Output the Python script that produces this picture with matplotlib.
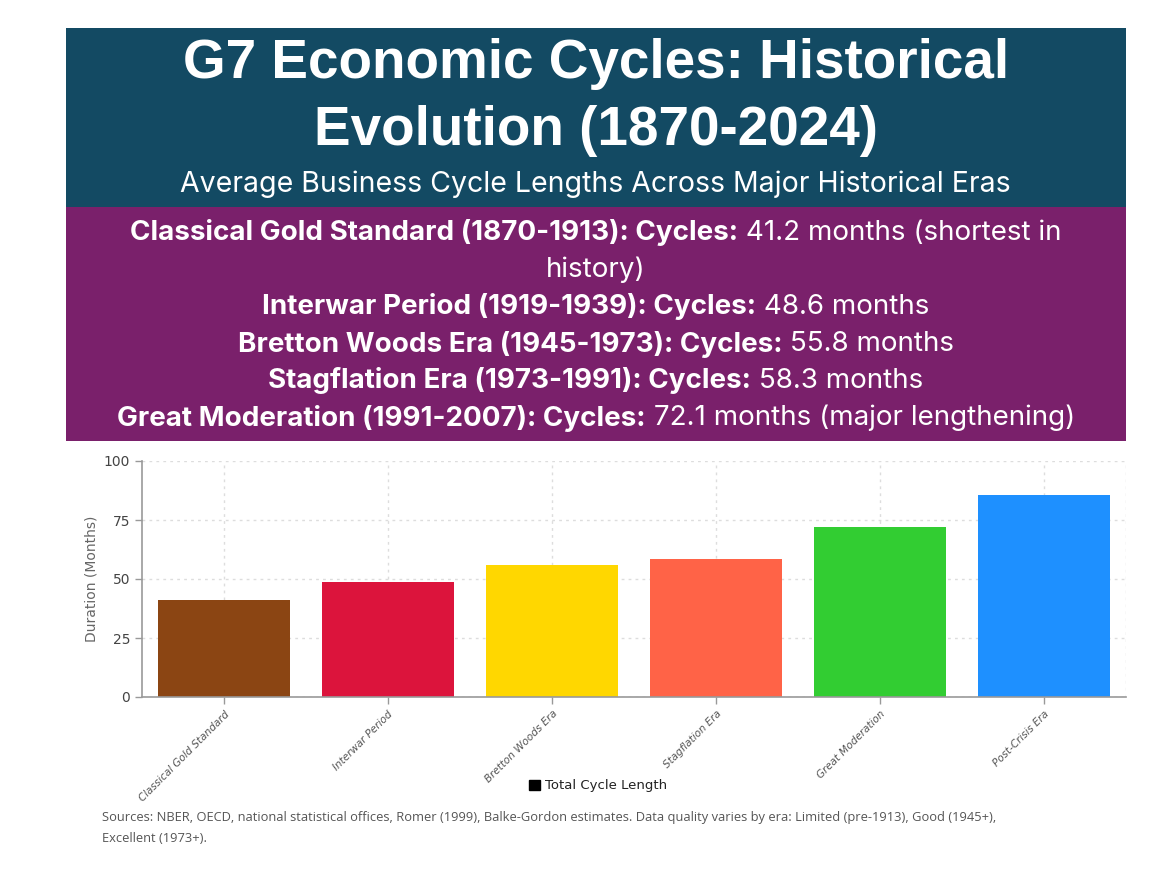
import matplotlib
matplotlib.use("Agg")
import matplotlib.pyplot as plt
from matplotlib.patches import Rectangle

categories = ["Classical Gold Standard", "Interwar Period", "Bretton Woods Era",
              "Stagflation Era", "Great Moderation", "Post-Crisis Era"]
durations = [41.2, 48.6, 55.8, 58.3, 72.1, 85.6]
bar_colors = ["#8B4513", "#DC143C", "#FFD700", "#FF6347", "#32CD32", "#1E90FF"]
yticks = [0, 25, 50, 75, 100]

title_lines = ["G7 Economic Cycles: Historical", "Evolution (1870-2024)"]
subtitle = "Average Business Cycle Lengths Across Major Historical Eras"
era_lines = [
    ("Classical Gold Standard (1870-1913): Cycles:", " 41.2 months (shortest in"),
    ("", "history)"),
    ("Interwar Period (1919-1939): Cycles:", " 48.6 months"),
    ("Bretton Woods Era (1945-1973): Cycles:", " 55.8 months"),
    ("Stagflation Era (1973-1991): Cycles:", " 58.3 months"),
    ("Great Moderation (1991-2007): Cycles:", " 72.1 months (major lengthening)"),
]
source_lines = [
    "Sources: NBER, OECD, national statistical offices, Romer (1999), Balke-Gordon estimates. "
    "Data quality varies by era: Limited (pre-1913), Good (1945+),",
    "Excellent (1973+).",
]

W, H = 1169, 877
fig = plt.figure(figsize=(W / 100, H / 100), dpi=100)
fig.patch.set_facecolor("white")

def fx(px):
    return px / W

def fy(py):
    return 1 - py / H

# Title box
fig.patches.append(Rectangle((fx(66), fy(207)), fx(1126) - fx(66), fy(28) - fy(207),
                             transform=fig.transFigure, facecolor="#134A63", edgecolor="none", zorder=0))
fig.patches.append(Rectangle((fx(66), fy(441)), fx(1126) - fx(66), fy(207) - fy(441),
                             transform=fig.transFigure, facecolor="#7A206B", edgecolor="none", zorder=0))

for i, line in enumerate(title_lines):
    fig.text(fx(596), fy(64 + i * 67), line, ha="center", va="center", color="white",
             fontsize=39.5, fontweight="bold", family="Liberation Sans")
fig.text(fx(595), fy(184), subtitle, ha="center", va="center", color="white",
         fontsize=20.5, family="Inter")

# Era lines with mixed weights
fig.canvas.draw()
renderer = fig.canvas.get_renderer()
for i, (b, n) in enumerate(era_lines):
    yc = fy(233 + i * 37)
    parts = []
    if b:
        parts.append(fig.text(0, yc, b, ha="left", va="center", color="white", fontsize=20,
                              fontweight="bold", family="Inter"))
    if n:
        txt = n if b else n.strip()
        parts.append(fig.text(0, yc, txt, ha="left", va="center", color="white", fontsize=20,
                              family="Inter"))
    widths = [p.get_window_extent(renderer).width for p in parts]
    total = sum(widths)
    x0 = 596 - total / 2
    for p, w in zip(parts, widths):
        p.set_x(fx(x0))
        x0 += w

# Chart
ax = fig.add_axes([fx(142), fy(697), fx(1126) - fx(142), fy(461) - fy(697)])
x = list(range(len(categories)))
ax.bar(x, durations, width=0.8, color=bar_colors, edgecolor="none", zorder=2,
       label="Total Cycle Length")
ax.set_xlim(-0.5, len(categories) - 0.5)
ax.set_ylim(0, 100)
ax.set_yticks(yticks)
ax.set_yticklabels([str(v) for v in yticks], fontsize=10, color="#444444")
ax.set_xticks(x)
ax.set_xticklabels(categories, rotation=45, ha="right", rotation_mode="anchor",
                   fontsize=7.5, color="#555555", fontstyle="italic")
ax.grid(True, linestyle=(0, (2, 3)), color="#dddddd", linewidth=1, zorder=0)
ax.axvline(len(categories) - 0.5, linestyle=(0, (2, 3)), color="#dddddd", linewidth=1, zorder=0)
for s in ["top", "right"]:
    ax.spines[s].set_visible(False)
for s in ["left", "bottom"]:
    ax.spines[s].set_color("#999999")
    ax.spines[s].set_linewidth(1.2)
ax.tick_params(axis="both", colors="#999999", length=5, width=1)
ax.tick_params(axis="y", labelcolor="#444444")
ax.tick_params(axis="x", labelcolor="#555555")
ax.set_ylabel("Duration (Months)", fontsize=10, color="#666666", labelpad=4)

leg = fig.legend(handles=[Rectangle((0, 0), 1, 1, color="black")], labels=["Total Cycle Length"],
                 loc="center", bbox_to_anchor=(fx(598), fy(786)), frameon=False, fontsize=9.5,
                 handlelength=0.8, handleheight=0.8, handletextpad=0.4)
for t in leg.get_texts():
    t.set_color("#222222")

for i, line in enumerate(source_lines):
    fig.text(fx(102), fy(818 + i * 20), line, ha="left", va="center", fontsize=9.3,
             color="#555555", family="Open Sans")

fig.savefig("out.png", dpi=100)
